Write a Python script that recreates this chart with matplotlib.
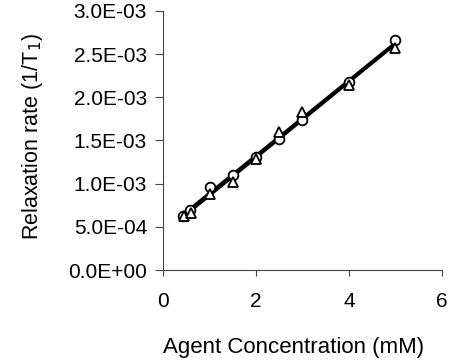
import numpy as np
import matplotlib
matplotlib.use("Agg")
from matplotlib import pyplot as plt
from matplotlib.ticker import FuncFormatter

plt.rcParams['font.family'] = ['Liberation Sans', 'DejaVu Sans']

# concentration (mM)
conc_circle = [0.42, 0.57, 1.0, 1.5, 2.0, 2.5, 3.0, 4.0, 5.0]
rate_circle = [0.625e-3, 0.695e-3, 0.957e-3, 1.104e-3, 1.313e-3, 1.514e-3, 1.737e-3, 2.18e-3, 2.664e-3]

conc_tri = [0.45, 0.6, 1.0, 1.5, 2.0, 2.5, 3.0, 4.0, 5.0]
rate_tri = [0.625e-3, 0.656e-3, 0.876e-3, 1.023e-3, 1.286e-3, 1.602e-3, 1.826e-3, 2.143e-3, 2.575e-3]

fig = plt.figure(figsize=(4.74, 3.63), dpi=100)
ax = fig.add_axes([0.344, 0.256, 0.588, 0.714])

for xs, ys in [(conc_circle, rate_circle), (conc_tri, rate_tri)]:
    xs = np.array(xs)
    k, b = np.polyfit(xs, ys, 1)
    xfit = np.array([xs.min(), xs.max()])
    ax.plot(xfit, k * xfit + b, color='black', lw=2.2, zorder=2)

ax.plot(conc_circle, rate_circle, 'o', ms=7, mfc='white', mec='black', mew=1.3, zorder=3)
ax.plot(conc_tri, rate_tri, '^', ms=7.5, mfc='white', mec='black', mew=1.3, zorder=3)

ax.set_xlim(0, 6)
ax.set_ylim(0, 3e-3)
ax.set_xticks([0, 2, 4, 6])
ax.set_yticks(np.arange(0, 3.01e-3, 0.5e-3))
ax.yaxis.set_major_formatter(FuncFormatter(lambda v, p: '{:.1E}'.format(v)))

for s in ['top', 'right']:
    ax.spines[s].set_visible(False)
for s in ['left', 'bottom']:
    ax.spines[s].set_color('#444444')
    ax.spines[s].set_linewidth(0.8)
ax.tick_params(direction='out', width=0.8, color='#444444', labelsize=15)
ax.tick_params(axis='y', length=5.5, pad=6)
ax.tick_params(axis='x', length=4, pad=12)

ax.set_xlabel('Agent Concentration (mM)', fontsize=16, va='center')
ax.set_ylabel('Relaxation rate (1/T$_1$)', fontsize=15.5, va='center')
ax.xaxis.set_label_coords(0.467, -0.297)
ax.yaxis.set_label_coords(-0.468, 0.515)

fig.savefig('out.png', dpi=100)
